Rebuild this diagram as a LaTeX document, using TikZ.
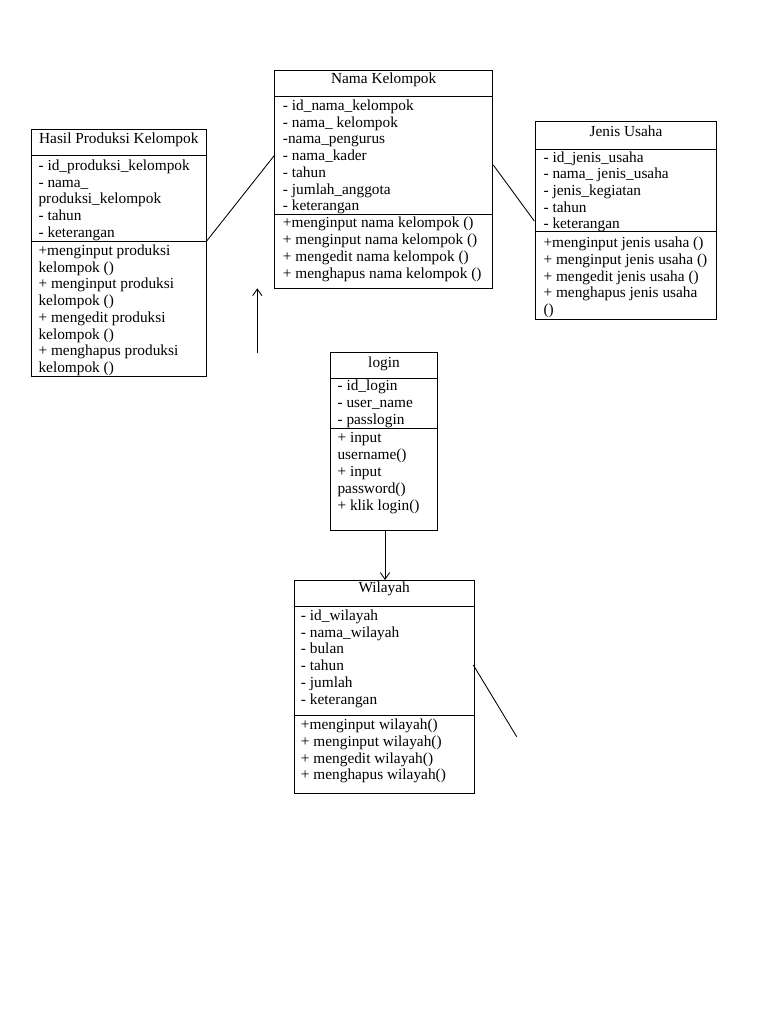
\documentclass[tikz,border=0pt]{standalone}
\usepackage{fontspec}
\setmainfont{Liberation Serif}
\usetikzlibrary{fit,arrows.meta}
\begin{document}
\begin{tikzpicture}[x=0.75pt,y=-0.75pt,
 box/.style={draw, line width=0.65pt, inner sep=0pt},
 txt/.style={font=\fontsize{11.5}{13}\selectfont, inner sep=0pt, anchor=base west},
 ttl/.style={font=\fontsize{11.5}{13}\selectfont, inner sep=0pt, anchor=base},
 divider/.style={line width=0.65pt},
 conn/.style={line width=0.65pt},
 arr/.style={line width=0.65pt, -{Straight Barb[length=5pt,width=7pt]}}]
\useasboundingbox (0,0) rectangle (768,1024);

% Nama Kelompok
\node[box, fit={(274.7,70)(492.7,288.3)}] (nk) {};
\node[ttl] (nkt) at (383.7,83.5) {Nama Kelompok};
\draw[divider] (274.7,96) -- (492.7,96);
\draw[divider] (274.7,214.3) -- (492.7,214.3);
\foreach \t [count=\i] in {- id\_nama\_kelompok, - nama\_ kelompok, -nama\_pengurus, - nama\_kader, - tahun, - jumlah\_anggota, - keterangan}
  \node[txt] (nka\i) at (282.7,{110.5+(\i-1)*16.7}) {\t};
\foreach \t [count=\i] in {+menginput nama kelompok (), + menginput nama kelompok (), + mengedit nama kelompok (), + menghapus nama kelompok ()}
  \node[txt] (nkm\i) at (282.7,{227.8+(\i-1)*16.9}) {\t};

% Hasil Produksi Kelompok
\node[box, fit={(31,129.3)(206.7,376.7)}] (hp) {};
\node[ttl] (hpt) at (118.8,143.3) {Hasil Produksi Kelompok};
\draw[divider] (31,155) -- (206.7,155);
\draw[divider] (31,241) -- (206.7,241);
\foreach \t [count=\i] in {- id\_produksi\_kelompok, - nama\_, produksi\_kelompok, - tahun, - keterangan}
  \node[txt] (hpa\i) at (38.3,{170.5+(\i-1)*16.7}) {\t};
\foreach \t [count=\i] in {+menginput produksi, kelompok (), + menginput produksi, kelompok (), + mengedit produksi, kelompok (), + menghapus produksi, kelompok ()}
  \node[txt] (hpm\i) at (38.3,{255.5+(\i-1)*16.7}) {\t};

% Jenis Usaha
\node[box, fit={(535.7,121.7)(716.3,319.3)}] (ju) {};
\node[ttl] (jut) at (626,136.5) {Jenis Usaha};
\draw[divider] (535.7,149.3) -- (716.3,149.3);
\draw[divider] (535.7,231.7) -- (716.3,231.7);
\foreach \t [count=\i] in {- id\_jenis\_usaha, - nama\_ jenis\_usaha, - jenis\_kegiatan, - tahun, - keterangan}
  \node[txt] (jua\i) at (543.3,{162.2+(\i-1)*16.6}) {\t};
\foreach \t [count=\i] in {+menginput jenis usaha (), + menginput jenis usaha (), + mengedit jenis usaha (), + menghapus jenis usaha, ()}
  \node[txt] (jum\i) at (543.3,{247.8+(\i-1)*16.7}) {\t};

% login
\node[box, fit={(330.7,352.7)(437.3,530.7)}] (lg) {};
\node[ttl] (lgt) at (384,367.2) {login};
\draw[divider] (330.7,378.3) -- (437.3,378.3);
\draw[divider] (330.7,428.3) -- (437.3,428.3);
\foreach \t [count=\i] in {- id\_login, - user\_name, - passlogin}
  \node[txt] (lga\i) at (337.3,{390.5+(\i-1)*17}) {\t};
\foreach \t [count=\i] in {+ input, username(), + input, password(), + klik login()}
  \node[txt] (lgm\i) at (337.3,{442.2+(\i-1)*17}) {\t};

% Wilayah
\node[box, fit={(294,580)(474.3,793.3)}] (wl) {};
\node[ttl] (wlt) at (384.2,592.8) {Wilayah};
\draw[divider] (294,606.7) -- (474.3,606.7);
\draw[divider] (294,715.7) -- (474.3,715.7);
\foreach \t [count=\i] in {- id\_wilayah, - nama\_wilayah, - bulan, - tahun, - jumlah, - keterangan}
  \node[txt] (wla\i) at (300.7,{620.5+(\i-1)*16.7}) {\t};
\foreach \t [count=\i] in {+menginput wilayah(), + menginput wilayah(), + mengedit wilayah(), + menghapus wilayah()}
  \node[txt] (wlm\i) at (300.7,{729.8+(\i-1)*16.7}) {\t};

% connectors
\coordinate (c1) at (206.7,241);
\coordinate (c2) at (274.7,155);
\draw[conn] (c1) -- (c2);
\coordinate (c3) at (493.3,165);
\coordinate (c4) at (534.3,221);
\draw[conn] (c3) -- (c4);
\coordinate (a1) at (257.3,353.3);
\coordinate (a2) at (257.3,288.3);
\draw[arr] (a1) -- (a2);
\coordinate (b1) at (385,530.7);
\coordinate (b2) at (385,580);
\draw[arr] (b1) -- (b2);
\coordinate (d1) at (473.3,665);
\coordinate (d2) at (516.7,736.7);
\draw[conn] (d1) -- (d2);
\end{tikzpicture}
\end{document}
